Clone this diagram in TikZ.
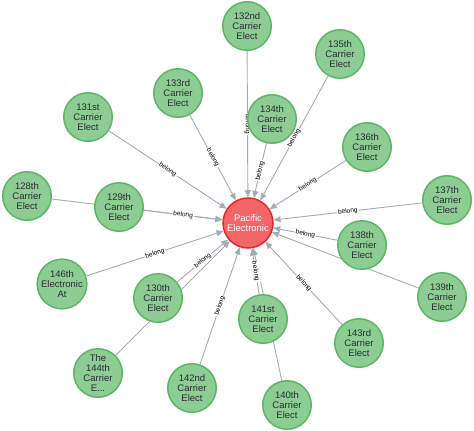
\documentclass[tikz,border=0pt]{standalone}
\usepackage{fontspec}
\setmainfont{Liberation Sans}
\usetikzlibrary{arrows.meta}
\definecolor{nfill}{HTML}{8DCC93}
\definecolor{nline}{HTML}{5DB665}
\definecolor{rfill}{HTML}{F16667}
\definecolor{rline}{HTML}{EB2728}
\definecolor{eline}{HTML}{A5ABB6}
\definecolor{ntext}{HTML}{2A2C34}
\pgfdeclarelayer{bg}
\pgfsetlayers{bg,main}
\begin{document}
\begin{tikzpicture}[x=1pt,y=-1pt,
 ent/.style={circle,draw=nline,fill=nfill,line width=1.5pt,minimum size=48.5pt,inner sep=0pt,align=center,font=\fontsize{9.5}{10}\selectfont,text=ntext},
 hub/.style={circle,draw=rline,fill=rfill,line width=1.5pt,minimum size=50pt,inner sep=0pt,align=center,font=\fontsize{9.5}{10}\selectfont,text=white},
 rel/.style={draw=eline,line width=0.9pt,-{Triangle[width=6pt,length=7pt]}},
 lab/.style={midway,sloped,fill=white,inner sep=1pt,font=\fontsize{6.5}{7}\selectfont,text=black}
]
\path[use as bounding box] (0,0) rectangle (474,431);
\node[hub] (pe) at (248,223) {Pacific\\Electronic};
\node[ent] (n132) at (247,26) {132nd\\Carrier\\Elect};
\node[ent] (n135) at (340,54) {135th\\Carrier\\Elect};
\node[ent] (n133) at (178,93) {133rd\\Carrier\\Elect};
\node[ent] (n134) at (272,119) {134th\\Carrier\\Elect};
\node[ent] (n131) at (88,117) {131st\\Carrier\\Elect};
\node[ent] (n136) at (367,147) {136th\\Carrier\\Elect};
\node[ent] (n128) at (27,196) {128th\\Carrier\\Elect};
\node[ent] (n129) at (119,207) {129th\\Carrier\\Elect};
\node[ent] (n137) at (447,200) {137th\\Carrier\\Elect};
\node[ent] (n138) at (362,245) {138th\\Carrier\\Elect};
\node[ent] (n146) at (62,284) {146th\\Electronic\\At};
\node[ent] (n130) at (158,298) {130th\\Carrier\\Elect};
\node[ent] (n139) at (442,297) {139th\\Carrier\\Elect};
\node[ent] (n141) at (263,319) {141st\\Carrier\\Elect};
\node[ent] (n143) at (359,343) {143rd\\Carrier\\Elect};
\node[ent] (n144) at (98,373) {The\\144th\\Carrier\\E...};
\node[ent] (n142) at (192,388) {142nd\\Carrier\\Elect};
\node[ent] (n140) at (287,405) {140th\\Carrier\\Elect};
\begin{pgfonlayer}{bg}
% edges whose labels lie hidden under another node in the reference
\foreach \n in {n128,n140,n144,n139}
  \draw[rel] (\n) -- (pe);
\foreach \n in {n132,n135,n133,n134,n131,n136,n129,n137,n138,n146,n130,n141,n143,n142}
  \draw[rel] (\n) -- (pe) node[lab]{belong};
\end{pgfonlayer}
\end{tikzpicture}
\end{document}
